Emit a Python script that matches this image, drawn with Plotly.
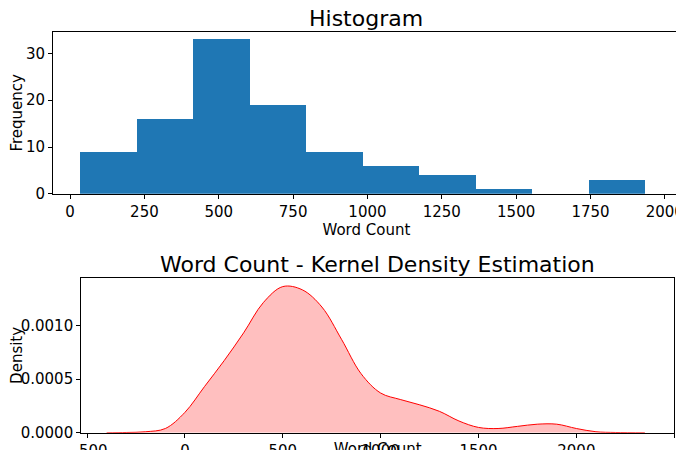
import plotly.graph_objects as go

# histogram bins (left edges) and counts
bin_left = [35, 225, 415, 605, 795, 985, 1175, 1365, 1555, 1745]
bin_width = 190
counts = [9, 16, 33, 19, 9, 6, 4, 1, 0, 3]

# KDE curve
kde_x = [-400, -300, -200, -100, 0, 100, 200, 300, 400, 500, 600, 700, 800, 900, 1000,
         1100, 1200, 1300, 1400, 1500, 1600, 1700, 1800, 1900, 2000, 2100, 2200, 2350]
kde_y = [0.0, 0.000003, 0.00001, 0.00004, 0.00019, 0.00043, 0.00067, 0.00093, 0.00121, 0.00136,
         0.00133, 0.00117, 0.00087, 0.00055, 0.00037, 0.00031, 0.00026, 0.00020, 0.00011, 0.00005,
         0.00004, 0.00006, 0.00008, 0.00008, 0.00004, 0.00001, 0.000003, 0.0]

fig = go.Figure()
fig.add_trace(go.Bar(x=[b + bin_width / 2 for b in bin_left], y=counts, width=bin_width,
                     marker=dict(color='#1f77b4', line=dict(width=0)), xaxis='x', yaxis='y'))
fig.add_trace(go.Scatter(x=kde_x, y=kde_y, mode='lines', line=dict(color='red', width=1, shape='spline'),
                         fill='tozeroy', fillcolor='rgba(255,0,0,0.25)', xaxis='x2', yaxis='y2'))

ax = dict(showgrid=False, zeroline=False, showline=True, mirror=True, linecolor='black', automargin=False,
          ticks='outside', ticklen=4, tickcolor='black', tickfont=dict(size=15, color='black'))
fig.update_layout(
    width=684, height=450, margin=dict(l=0, r=0, t=0, b=0),
    paper_bgcolor='white', plot_bgcolor='white', showlegend=False,
    font=dict(family='DejaVu Sans', color='black'),
    bargap=0,
    xaxis=dict(ax, domain=[0.066, 0.982], range=[-57, 2050], tickvals=[0, 250, 500, 750, 1000, 1250, 1500, 1750, 2000],
               title=dict(text='Word Count', font=dict(size=15), standoff=2), anchor='y'),
    yaxis=dict(ax, domain=[0.587, 0.947], range=[0, 34.6], tickvals=[0, 10, 20, 30],
               title=dict(text='Frequency', font=dict(size=15), standoff=4), anchor='x'),
    xaxis2=dict(ax, domain=[0.107, 0.974], range=[-530, 2500], tickvals=[-500, 0, 500, 1000, 1500, 2000, 2500],
                title=dict(text='Word Count', font=dict(size=15), standoff=2), anchor='y2'),
    yaxis2=dict(ax, domain=[0.056, 0.4], range=[0, 0.00144], tickvals=[0, 0.0005, 0.001],
                ticktext=['0.0000', '0.0005', '0.0010'],
                title=dict(text='Density', font=dict(size=15), standoff=4), anchor='x2'),
    annotations=[
        dict(text='Histogram', x=0.524, y=0.945, xref='paper', yref='paper', xanchor='center',
             yanchor='bottom', showarrow=False, font=dict(size=22)),
        dict(text='Word Count - Kernel Density Estimation', x=0.54, y=0.398, xref='paper', yref='paper',
             xanchor='center', yanchor='bottom', showarrow=False, font=dict(size=22)),
    ],
)

fig.write_html("out.html")
